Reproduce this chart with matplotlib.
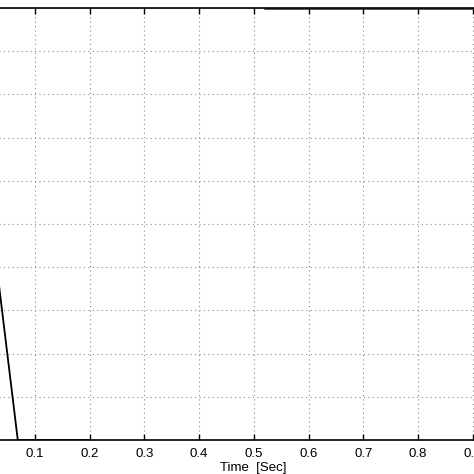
import numpy as np
import matplotlib.pyplot as plt

# response (time in sec, normalised value)
t_fall = [0.0, 0.069, 0.2]
y_fall = [0.72, 0.0, 0.0]
t_top = [0.52, 1.0]
y_top = [0.997, 0.997]

xticks = [0.1, 0.2, 0.3, 0.4, 0.5, 0.6, 0.7, 0.8, 0.9]
yticks = np.arange(0, 1.01, 0.1)

plt.rcParams['font.family'] = ['Liberation Sans', 'DejaVu Sans']

fig = plt.figure(figsize=(4.74, 4.74), dpi=100)
# the original is cropped, so the axes spill past the left/right edges
ax = fig.add_axes([-20 / 474, 34 / 474, 547.5 / 474, 432 / 474])

ax.plot(t_fall, y_fall, color='black', lw=1.3)
ax.plot(t_top, y_top, color='#222222', lw=1.1)

ax.set_xlim(0, 1)
ax.set_ylim(0, 1)
ax.set_xticks(xticks)
ax.set_xticklabels([f"{v:.1f}" for v in xticks], fontsize=9.5)
ax.set_yticks(yticks)
ax.set_yticklabels([])
ax.tick_params(direction='in', top=True, right=True, length=4, width=1, pad=6)
ax.grid(True, linestyle=(0, (1, 3)), color='#8a8a8a', linewidth=0.8)
for s in ax.spines.values():
    s.set_linewidth(1.2)

ax.set_xlabel("Time  [Sec]", fontsize=9.5, labelpad=1)

fig.savefig("out.png", dpi=100)
